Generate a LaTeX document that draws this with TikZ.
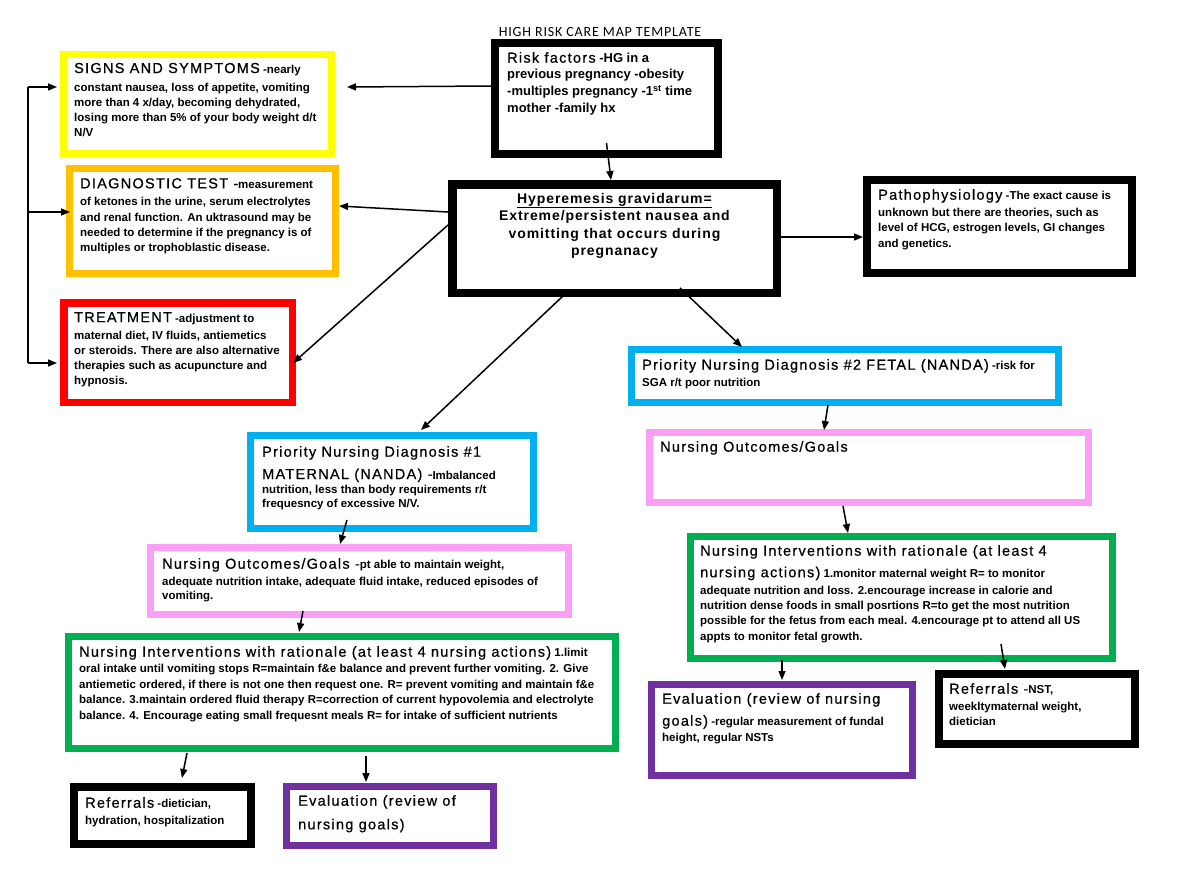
\documentclass[tikz,border=0pt]{standalone}
\usepackage{fontspec}
\setmainfont{Liberation Sans}
\newfontfamily\hfont[LetterSpace=8.8,FakeBold=0.6]{Liberation Sans}
\newfontfamily\hgfont[LetterSpace=6.5]{Liberation Sans}
\newfontfamily\tfont[LetterSpace=6]{Carlito}
\usetikzlibrary{arrows.meta}
\definecolor{cyel}{RGB}{255,255,0}
\definecolor{corg}{RGB}{255,192,0}
\definecolor{cred}{RGB}{255,0,0}
\definecolor{cblu}{RGB}{0,176,240}
\definecolor{cpnk}{RGB}{250,158,246}
\definecolor{cgrn}{RGB}{0,176,80}
\definecolor{cpur}{RGB}{112,48,160}
\newcommand\bd{\fontsize{11.5}{15.3}\selectfont\bfseries}
\newcommand\hd[1]{{\hfont\mdseries\fontsize{14.5}{18}\selectfont #1}}
\begin{document}
\begin{tikzpicture}[x=1pt,y=-1pt,
  box/.style={draw=#1, inner sep=0pt, fill=white},
  txt/.style={anchor=north west, inner sep=0pt, align=left, font=\bd},
  arr/.style={line width=1.5pt, -{Triangle[length=9pt,width=7pt]}},
  brk/.style={line width=2pt}]
\fill[white] (0,0) rectangle (1200,889);
\useasboundingbox (0,0) rectangle (1200,889);

% title
\node[anchor=base, inner sep=0pt, font=\tfont\fontsize{14}{16}\selectfont] (title) at (600,36.7) {HIGH RISK CARE MAP TEMPLATE};

% boxes
\node[box=black, line width=8pt, minimum width=223pt, minimum height=111pt] (risk) at (606.5,98.5) {};
\node[box=cyel, line width=7pt, minimum width=268pt, minimum height=99pt] (signs) at (197.5,104) {};
\node[box=corg, line width=7pt, minimum width=266pt, minimum height=105pt] (diag) at (202.5,221) {};
\node[box=black, line width=8.5pt, minimum width=324.5pt, minimum height=108.5pt] (hg) at (614.5,238.5) {};
\node[box=black, line width=8pt, minimum width=265pt, minimum height=93pt] (patho) at (999.5,226.5) {};
\node[box=cred, line width=7.5pt, minimum width=228.5pt, minimum height=99.5pt] (treat) at (178,352.5) {};
\node[box=cblu, line width=7pt, minimum width=427pt, minimum height=53pt] (pnd2) at (845,376) {};
\node[box=cblu, line width=7pt, minimum width=283pt, minimum height=93pt] (pnd1) at (392,482) {};
\node[box=cpnk, line width=7pt, minimum width=439pt, minimum height=70pt] (out2) at (869,467.5) {};
\node[box=cpnk, line width=7pt, minimum width=418pt, minimum height=67pt] (out1) at (359.5,581) {};
\node[box=cgrn, line width=7pt, minimum width=422pt, minimum height=122pt] (int2) at (901.5,597.5) {};
\node[box=cgrn, line width=7pt, minimum width=547pt, minimum height=112pt] (int1) at (342,692.5) {};
\node[box=cpur, line width=7pt, minimum width=261pt, minimum height=91pt] (eval2) at (782,730) {};
\node[box=black, line width=8pt, minimum width=196pt, minimum height=70pt] (ref2) at (1037,709) {};
\node[box=black, line width=8pt, minimum width=177pt, minimum height=57pt] (ref1) at (162.5,815.5) {};
\node[box=cpur, line width=7pt, minimum width=207pt, minimum height=59pt] (eval1) at (390,816) {};

% texts
\node[txt] (signs-t) at (74,62.7) {\hd{SIGNS AND SYMPTOMS} -nearly\\[2.7pt]
constant nausea, loss of appetite, vomiting\\
more than 4 x/day, becoming dehydrated,\\
losing more than 5\% of your body weight d/t\\
N/V};
\node[txt] (diag-t) at (80,178) {\hd{DIAGNOSTIC TEST -}measurement\\[2.3pt]
of ketones in the urine, serum electrolytes\\
and renal function. An uktrasound may be\\
needed to determine if the pregnancy is of\\
multiples or trophoblastic disease.};
\node[txt, font={\bd\fontsize{11.5}{15}\selectfont}] (treat-t) at (74,312) {\hd{TREATMENT} -adjustment to\\[2.6pt]
maternal diet, IV fluids, antiemetics\\
or steroids. There are also alternative\\
therapies such as acupuncture and\\
hypnosis.};
\node[txt, font={\bd\fontsize{13}{17}\selectfont}] (risk-t) at (507,52) {\hd{Risk factors} -HG in a\\[-1pt]
previous pregnancy -obesity\\
-multiples pregnancy -1\textsuperscript{st} time\\
mother -family hx};
\node[anchor=north, inner sep=0pt, align=center, font={\hgfont\bfseries\fontsize{14}{17.6}\selectfont}] (hg-t) at (614.5,192.7) {\underline{Hyperemesis gravidarum=}\\
Extreme/persistent nausea and\\
vomitting that occurs during\\
pregnanacy};
\node[txt, font={\bd\fontsize{11.5}{15.6}\selectfont}] (patho-t) at (878,189) {\hd{Pathophysiology} -The exact cause is\\[0.9pt]
unknown but there are theories, such as\\
level of HCG, estrogen levels, GI changes\\
and genetics.};
\node[txt] (pnd2-t) at (642,359) {\hd{Priority Nursing Diagnosis \#2 FETAL (NANDA)} -risk for\\[1.7pt]
SGA r/t poor nutrition};
\node[txt, font={\bd\fontsize{11.5}{14.2}\selectfont}] (pnd1-t) at (262,446) {\hd{Priority Nursing Diagnosis \#1}\\[8.1pt]
\hd{MATERNAL (NANDA) -}Imbalanced\\[0.4pt]
nutrition, less than body requirements r/t\\
frequesncy of excessive N/V.};
\node[txt] (out2-t) at (660,441) {\hd{Nursing Outcomes/Goals}};
\node[txt, font={\bd\fontsize{11.5}{14}\selectfont}] (out1-t) at (162,558) {\hd{Nursing Outcomes/Goals -}pt able to maintain weight,\\[2.6pt]
adequate nutrition intake, adequate fluid intake, reduced episodes of\\
vomiting.};
\node[txt] (int2-t) at (700,545) {\hd{Nursing Interventions with rationale (at least 4}\\[6.2pt]
\hd{nursing actions)} 1.monitor maternal weight R= to monitor\\[1.7pt]
adequate nutrition and loss. 2.encourage increase in calorie and\\
nutrition dense foods in small posrtions R=to get the most nutrition\\
possible for the fetus from each meal. 4.encourage pt to attend all US\\
appts to monitor fetal growth.};
\node[txt, font={\bd\fontsize{11.5}{15.5}\selectfont}] (int1-t) at (79,646) {\hd{Nursing Interventions with rationale (at least 4 nursing actions)} 1.limit\\[0.7pt]
oral intake until vomiting stops R=maintain f\&e balance and prevent further vomiting. 2. Give\\
antiemetic ordered, if there is not one then request one. R= prevent vomiting and maintain f\&e\\
balance. 3.maintain ordered fluid therapy R=correction of current hypovolemia and electrolyte\\
balance. 4. Encourage eating small frequesnt meals R= for intake of sufficient nutrients};
\node[txt, font={\bd\fontsize{11.5}{15.6}\selectfont}] (eval2-t) at (662,693) {\hd{Evaluation (review of nursing}\\[6.4pt]
\hd{goals)} -regular measurement of fundal\\
height, regular NSTs};
\node[txt, font={\bd\fontsize{11.5}{15.6}\selectfont}] (ref2-t) at (949,683) {\hd{Referrals -}NST,\\[1pt]
weekltymaternal weight,\\
dietician};
\node[txt] (ref1-t) at (85,797) {\hd{Referrals} -dietician,\\[1.7pt]
hydration, hospitalization};
\node[txt] (eval1-t) at (298,795) {\hd{Evaluation (review of}\\[8.3pt]
\hd{nursing goals)}};

% bracket on the left
\coordinate (brT) at (28,87);
\coordinate (brM) at (28,212);
\coordinate (brB) at (28,363);
\draw[brk] (brT) -- (brB);
\draw[arr, shorten >=3pt] (brT) -- (brT -| signs.west);
\draw[arr, shorten >=-4pt] (brM) -- (brM -| diag.west);
\draw[arr, shorten >=3pt] (brB) -- (brB -| treat.west);

% connectors
\draw[arr] ([yshift=12.5pt]risk.west) -- ([xshift=12pt,yshift=17pt]signs.east);
\draw[arr] ([yshift=26.5pt]hg.west) -- ([yshift=15pt]diag.east);
\draw[arr] ([yshift=13.5pt]hg.west) -- ([xshift=-3pt,yshift=-10.5pt]treat.east);
\draw[arr] ([yshift=15pt]risk.south) -- ([xshift=-3.5pt]hg.north);
\draw[arr] ([yshift=1.5pt]hg.east) -- ([yshift=-10.5pt]patho.west);
\draw[arr] ([xshift=-51.5pt,yshift=1pt]hg.south) -- ([xshift=29pt,yshift=2pt]pnd1.north);
\draw[arr] ([xshift=65.5pt,yshift=9pt]hg.south) -- ([xshift=-103pt,yshift=-1pt]pnd2.north);
\draw[arr] ([xshift=-17pt,yshift=1pt]pnd2.south) -- ([xshift=-45pt,yshift=-1pt]out2.north);
\draw[arr] ([xshift=-26pt]out2.south) -- ([xshift=-53.5pt]int2.north);
\draw[arr] ([xshift=-119.5pt,yshift=2pt]int2.south) -- ([yshift=1pt]eval2.north);
\draw[arr] ([xshift=99.5pt,yshift=18pt]int2.south) -- ([xshift=-32pt,yshift=1pt]ref2.north);
\draw[arr] ([xshift=-45pt,yshift=12pt]pnd1.south) -- ([xshift=-19.5pt]out1.north);
\draw[arr] ([xshift=-56.5pt,yshift=7pt]out1.south) -- ([xshift=-43pt,yshift=1pt]int1.north);
\draw[arr] ([xshift=-155pt,yshift=-1pt]int1.south) -- ([xshift=19.5pt,yshift=5pt]ref1.north);
\draw[arr] ([xshift=24pt,yshift=-4pt]int1.south) -- ([xshift=-24pt,yshift=1pt]eval1.north);
\end{tikzpicture}
\end{document}
